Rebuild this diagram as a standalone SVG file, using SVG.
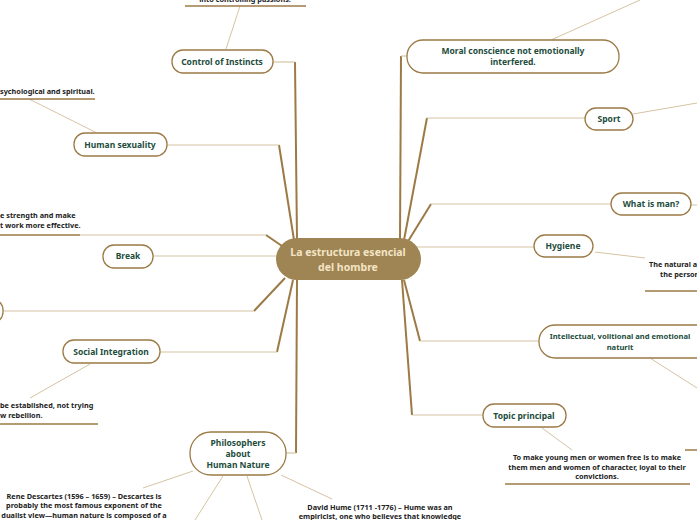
<svg xmlns="http://www.w3.org/2000/svg" width="697" height="520" viewBox="0 0 697 520">
<style>
text{font-family:"Noto Sans","Open Sans",sans-serif;font-weight:bold}
.n rect{fill:#fff;stroke:#9c7a45;stroke-width:1.3}
.n text{fill:#1d4d3c;font-size:8.5px;text-anchor:middle}
.t{fill:#222;font-size:7.3px}
.tr{fill:none;stroke:#9c7a45;stroke-width:2}
.br{fill:none;stroke:#d6c3a1;stroke-width:1.2}
.sub{fill:none;stroke:#d6c3a1;stroke-width:1}
.ul{stroke:#9c7a45;stroke-width:1.5}
</style>
<g id="connectors">
<path class="tr" d="M297,240 L295,62"/><path class="br" d="M295,62 H273"/>
<path class="tr" d="M294,240 L279,145"/><path class="br" d="M279,145 H167"/>
<path class="tr" d="M282,246 L266,235"/><path class="br" d="M266,235 H80"/>
<path class="br" d="M153,256 H277"/>
<path class="tr" d="M285,278 L254,311"/><path class="br" d="M254,311 H3"/>
<path class="tr" d="M293,280 L277,352"/><path class="br" d="M277,352 H160"/>
<path class="tr" d="M297,280 L296,453"/><path class="br" d="M296,453 H286"/>
<path class="tr" d="M400,240 L401,56"/><path class="br" d="M401,56 H407"/>
<path class="tr" d="M404,240 L427,118"/><path class="br" d="M427,118 H585"/>
<path class="tr" d="M407,243 L431,204"/><path class="br" d="M431,204 H611"/>
<path class="br" d="M416,247 H534"/>
<path class="tr" d="M404,280 L420,341"/><path class="br" d="M420,341 H539"/>
<path class="tr" d="M402,280 L412,415"/><path class="br" d="M412,415 H483"/>
<path class="sub" d="M551,40 L640,0 M633,114 L697,103 M691,205 H697 M595,252 L645,258 M650,358 L697,388 M542,428 L572,450 M226,49 L240,6 M97,133 L29,99 M90,364 L30,398 M193,471 L143,488 M223,476 L195,520 M247,476 L262,520 M281,475 L332,499"/>
</g>
<g id="center"><rect x="276" y="238" width="145" height="42" rx="21" fill="#a08554"/><text x="348" y="256" text-anchor="middle" fill="#f2e4c4" font-size="10.5">La estructura esencial</text><text x="348" y="271" text-anchor="middle" fill="#f2e4c4" font-size="10.5">del hombre</text></g>
<g id="control" class="n"><rect x="172" y="50" width="101" height="23" rx="11"/><text x="222" y="65">Control of Instincts</text></g>
<g id="sexuality" class="n"><rect x="74" y="133" width="93" height="23" rx="11"/><text x="120" y="148">Human sexuality</text></g>
<g id="break" class="n"><rect x="103" y="245" width="50" height="23" rx="11"/><text x="128" y="259">Break</text></g>
<g id="leftnode" class="n"><rect x="-60" y="299" width="63" height="24" rx="11"/></g>
<g id="social" class="n"><rect x="63" y="340" width="97" height="23" rx="11"/><text x="111" y="355">Social Integration</text></g>
<g id="philo" class="n"><rect x="190" y="432" width="96" height="43" rx="21"/><text x="238" y="446">Philosophers</text><text x="238" y="457">about</text><text x="238" y="468">Human Nature</text></g>
<g id="moral" class="n"><rect x="407" y="40" width="212" height="33" rx="16"/><text x="513" y="54">Moral conscience not emotionally</text><text x="513" y="65">interfered.</text></g>
<g id="sport" class="n"><rect x="585" y="108" width="48" height="22" rx="11"/><text x="609" y="122">Sport</text></g>
<g id="whatisman" class="n"><rect x="611" y="193" width="80" height="22" rx="11"/><text x="651" y="207">What is man?</text></g>
<g id="hygiene" class="n"><rect x="534" y="235" width="59" height="22" rx="11"/><text x="563" y="249">Hygiene</text></g>
<g id="intellectual" class="n"><rect x="539" y="325" width="180" height="33" rx="16"/><text x="620" y="339" style="font-size:7.6px">Intellectual, volitional and emotional</text><text x="620" y="350" style="font-size:7.6px">naturit</text></g>
<g id="topic" class="n"><rect x="483" y="404" width="83" height="23" rx="11"/><text x="524" y="419">Topic principal</text></g>
<g id="notes">
<text class="t" x="245" y="2" text-anchor="middle">into controlling passions.</text><line class="ul" x1="185" y1="6" x2="306" y2="6"/>
<text class="t" x="0" y="94">sychological and spiritual.</text><line class="ul" x1="0" y1="99" x2="95" y2="99"/>
<text class="t" x="0" y="218" fill="#1d4d3c">e strength and make</text><text class="t" x="0" y="228" fill="#1d4d3c">t work more effective.</text><line class="ul" x1="0" y1="235" x2="80" y2="235"/>
<text class="t" x="0" y="408">be established, not trying</text><text class="t" x="0" y="418">w rebellion.</text><line class="ul" x1="0" y1="424" x2="98" y2="424"/>
<text class="t" x="84" y="499" text-anchor="middle">Rene Descartes (1596 – 1659) – Descartes is</text><text class="t" x="84" y="508" text-anchor="middle">probably the most famous exponent of the</text><text class="t" x="84" y="518" text-anchor="middle">dualist view—human nature is composed of a</text>
<text class="t" x="380" y="510" text-anchor="middle">David Hume (1711 -1776) – Hume was an</text><text class="t" x="380" y="519" text-anchor="middle">empiricist, one who believes that knowledge</text>
<text class="t" x="649" y="267">The natural ar</text><text class="t" x="660" y="277">the person</text><line class="ul" x1="645" y1="291" x2="697" y2="291"/>
<line class="ul" x1="685" y1="450" x2="697" y2="450"/>
<text class="t" x="597" y="460" text-anchor="middle">To make young men or women free is to make</text><text class="t" x="597" y="470" text-anchor="middle">them men and women of character, loyal to their</text><text class="t" x="597" y="479" text-anchor="middle">convictions.</text><line class="ul" x1="505" y1="484" x2="690" y2="484"/>
</g>
</svg>
